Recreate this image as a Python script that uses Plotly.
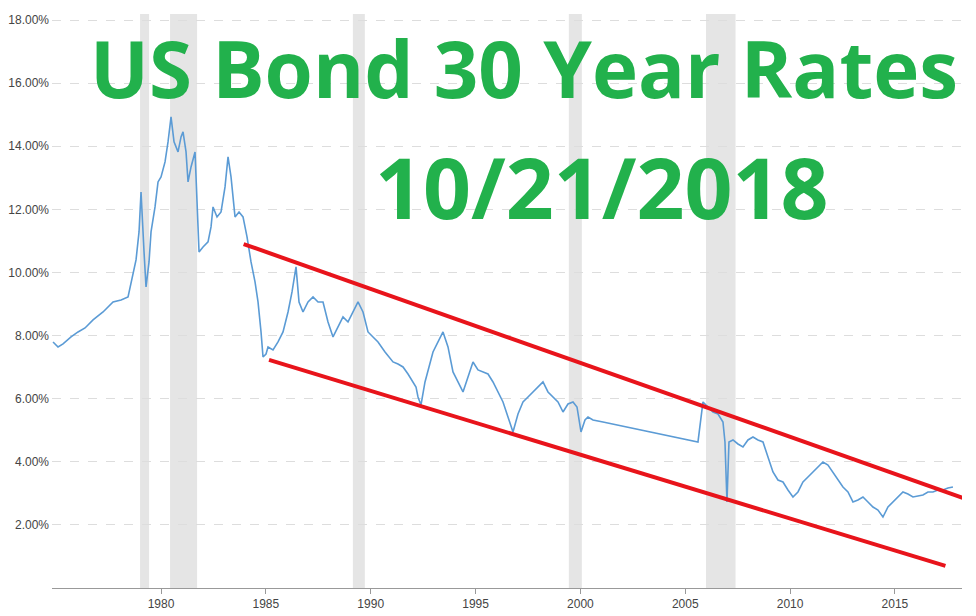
import plotly.graph_objects as go

# (x pixel-derived years, rates in %)
px = [50,55,60,68,75,82,90,100,110,118,125,133,136,138,141,143,146,148,152,155,158,162,165,168,171,175,178,180,183,185,188,192,194,196,200,205,208,210,214,218,222,225,228,232,236,240,244,248,252,255,258,260,263,265,270,275,280,285,289,293,296,300,305,310,315,320,325,330,335,340,345,355,360,365,370,375,382,390,395,400,405,410,413,415,418,422,426,430,435,440,445,450,455,460,465,470,475,480,485,490,495,500,505,510,515,520,525,530,535,540,545,550,555,560,565,570,574,578,582,585,590,600,695,700,705,710,715,720,722,724,726,730,735,740,745,750,755,760,765,770,775,780,785,790,795,800,805,810,815,820,825,830,835,840,845,850,855,860,865,870,875,880,885,890,895,900,905,910,915,920,925,930,935,940,945,950]
py = [340,345,342,335,330,326,318,310,300,298,295,258,230,190,250,285,260,230,205,180,175,160,140,115,140,150,135,130,150,180,165,150,200,250,245,240,225,205,215,210,185,155,175,215,210,215,235,260,280,300,330,355,352,345,348,340,330,310,290,265,300,310,300,295,300,300,320,335,325,315,320,300,310,330,335,340,350,360,362,365,372,380,385,395,403,380,365,350,340,330,345,370,380,390,375,360,368,370,372,380,390,400,415,430,412,400,395,390,385,380,390,395,400,410,402,400,405,430,418,415,418,420,440,400,405,410,412,420,440,500,440,438,442,445,438,435,438,440,455,470,478,480,488,495,490,480,475,470,465,460,463,470,478,485,490,500,498,495,500,505,508,515,505,500,495,490,492,495,494,493,490,490,488,488,486,485,478]
years = [1980 + (x - 158) / 20.97 for x in px]
rates = [(586 - y) / 31.55 for y in py]

rec_start = [1979.0, 1980.43, 1989.15, 1999.45, 2005.99]
rec_end = [1979.43, 1981.72, 1989.72, 2000.07, 2007.4]

upper_x = [1983.94, 2018.27]; upper_y = [10.90, 2.85]
lower_x = [1985.15, 2017.41]; lower_y = [7.23, 0.70]

yticks = [2, 4, 6, 8, 10, 12, 14, 16, 18]
xticks = [1980, 1985, 1990, 1995, 2000, 2005, 2010, 2015]

fig = go.Figure()
for s, e in zip(rec_start, rec_end):
    fig.add_vrect(x0=s, x1=e, fillcolor="#e5e5e5", line_width=0, layer="below")
fig.add_trace(go.Scatter(x=years, y=rates, mode="lines", line=dict(color="#5b9bd5", width=1.6)))
fig.add_trace(go.Scatter(x=upper_x, y=upper_y, mode="lines", line=dict(color="#e8141b", width=4)))
fig.add_trace(go.Scatter(x=lower_x, y=lower_y, mode="lines", line=dict(color="#e8141b", width=4)))
fig.update_layout(
    width=976, height=616, showlegend=False, plot_bgcolor="white", paper_bgcolor="white",
    margin=dict(l=44, r=22, t=6, b=36),
    font=dict(family="Liberation Sans", size=12, color="#444"),
    xaxis=dict(range=[1974.8, 2018.2], tickvals=xticks, ticks="outside", ticklen=5, automargin=False,
               tickcolor="#999", showgrid=False, showline=True, linecolor="#999", zeroline=False),
    yaxis=dict(range=[0, 18.19], tickvals=yticks, ticktext=[f"{v:.2f}%" for v in yticks], automargin=False,
               showgrid=True, gridcolor="#dddddd", griddash="dash", zeroline=False, ticklabelstandoff=2),
)
fig.add_annotation(text="<b>US Bond 30 Year Rates</b>", x=(516 - 44) / 910, y=1 - (60 - 6) / 574,
                   xref="paper", yref="paper", xanchor="center", yanchor="middle",
                   showarrow=False, font=dict(size=78, color="#22b14c", family="Open Sans"))
fig.add_annotation(text="<b>10/21/2018</b>", x=(594 - 44) / 910, y=1 - (178 - 6) / 574,
                   xref="paper", yref="paper", xanchor="center", yanchor="middle",
                   showarrow=False, font=dict(size=84, color="#22b14c", family="Open Sans"))
fig.write_html("out.html")
